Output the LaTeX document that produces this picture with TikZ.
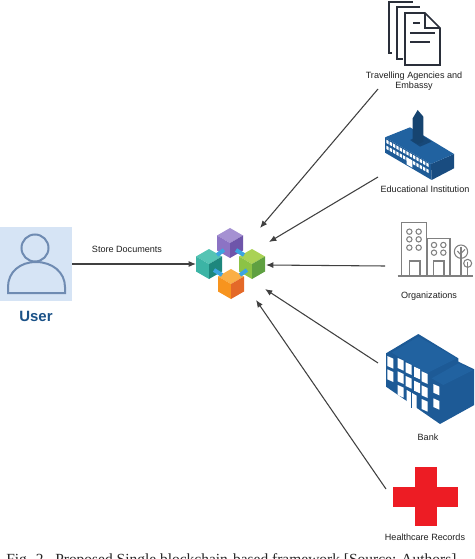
\documentclass[tikz,border=0pt]{standalone}
\usepackage{fontspec}
\setmainfont{Liberation Sans}
\newfontfamily\captionserif{Liberation Serif}
\usepackage{xcolor}
\usetikzlibrary{arrows.meta}
\usetikzlibrary{math}
\definecolor{myblue}{RGB}{29,90,150}
\definecolor{myroof}{RGB}{33,98,160}
\definecolor{myink}{RGB}{42,47,58}
\definecolor{myuser}{RGB}{111,139,178}
\definecolor{mybox}{RGB}{214,228,245}
\definecolor{mytube}{RGB}{60,165,225}
\definecolor{myred}{RGB}{237,28,36}
\definecolor{purpleA}{RGB}{165,145,210}
\definecolor{purpleB}{RGB}{140,115,196}
\definecolor{purpleC}{RGB}{110,85,170}
\definecolor{tealA}{RGB}{85,196,180}
\definecolor{tealB}{RGB}{60,180,165}
\definecolor{tealC}{RGB}{30,135,125}
\definecolor{greenA}{RGB}{170,210,85}
\definecolor{greenB}{RGB}{140,195,70}
\definecolor{greenC}{RGB}{95,160,65}
\definecolor{orangeA}{RGB}{250,175,70}
\definecolor{orangeB}{RGB}{247,148,30}
\definecolor{orangeC}{RGB}{228,105,40}
\tikzset{
label text/.style={font=\fontsize{6.8}{8}\selectfont, text=black!88, align=center, inner sep=0pt},
link/.style={-{Latex[length=5.5pt,width=4.5pt]}, black!75, line width=0.8pt},
doc line/.style={myink, line width=1.3pt},
org line/.style={black!50, line width=0.8pt},
tube/.style={line width=3pt, color=mytube}
}
% one block of the chain: x, y and colour name
\newcommand{\blockcube}[3]{
\fill[#3A] (#1,#2-15) -- (#1+13,#2-7.5) -- (#1,#2) -- (#1-13,#2-7.5) -- cycle;
\fill[#3B] (#1-13,#2-7.5) -- (#1,#2) -- (#1,#2+15) -- (#1-13,#2+7.5) -- cycle;
\fill[#3C] (#1+13,#2-7.5) -- (#1,#2) -- (#1,#2+15) -- (#1+13,#2+7.5) -- cycle;
}
% window of the bank, skewed along the left wall
\newcommand{\bankwindow}[3]{
\fill[white] (#1,#2) -- (#1+18,#2+8) -- (#1+18,#2+8+#3) -- (#1,#2+#3) -- cycle;
}
\begin{document}
\begin{tikzpicture}[x=0.75pt,y=-0.75pt]
\useasboundingbox (0,0) rectangle (474,559);
\clip (0,0) rectangle (474,559);
\tikzmath{
\chainx=230;
\chainy=264;
}

%The user:
\fill[mybox] (0,227) rectangle (72,301);
\draw[myuser, line width=1.5pt] (35,248) circle (13.5);
\draw[myuser, line width=1.5pt] (8,293) -- (8,287) .. controls (8,272) and (20,262) .. (36,262) .. controls (52,262) and (65,272) .. (65,287) -- (65,293) -- cycle;
\node[font=\fontsize{11.2}{13}\selectfont\bfseries, text=myblue!90!black, inner sep=0pt] (user) at (36,316) {User};
\node[label text] (store) at (127,249.5) {Store Documents};

%The chain:
\blockcube{230}{243}{purple}
\blockcube{209}{264}{teal}
\blockcube{252}{264}{green}
\blockcube{231}{284}{orange}
\draw[tube] (224,250) -- (217,255);
\draw[tube] (236,250) -- (244,255);
\draw[tube] (214,270) -- (222,275);
\draw[tube] (247,270) -- (240,275);
\coordinate (chain) at (\chainx,\chainy);

%The documents:
\draw[doc line] (392,53) -- (389,53) -- (389,2) -- (413,2);
\draw[doc line] (403,59) -- (397,59) -- (397,7) -- (420,7);
\draw[doc line] (405,13) -- (425,13) -- (440,28) -- (440,65) -- (405,65) -- cycle;
\draw[doc line] (425,13) -- (425,28) -- (440,28);
\draw[doc line] (413,23) -- (420,23);
\draw[doc line] (410,33) -- (435,33);
\draw[doc line] (410,42) -- (430,42);
\node[label text] (travel) at (414,81) {Travelling Agencies and\\Embassy};

%The school:
\begin{scope}[shift={(375,100)},scale=1/3]
\fill[myblue] (30,112) -- (168,192) -- (170,240) -- (30,158) -- cycle;
\fill[myblue!85!black] (168,192) -- (237,162) -- (237,205) -- (170,240) -- cycle;
\fill[myroof] (30,112) -- (105,82) -- (237,162) -- (168,192) -- cycle;
\fill[myblue!80!black] (105,120) -- (140,105) -- (170,125) -- (135,140) -- cycle;
\fill[myblue!75!black] (113,125) -- (113,55) -- (128,30) -- (145,50) -- (145,125) -- (130,132) -- cycle;
\foreach \i in {0,...,12}{
\fill[white] (34+10*\i,119+5.7*\i) -- +(7,4) -- +(7,14) -- +(0,10) -- cycle;
\fill[white] (34+10*\i,137+5.7*\i) -- +(7,4) -- +(7,14) -- +(0,10) -- cycle;
}
\fill[white] (95,172) -- (112,182) -- (112,203) -- (95,193) -- cycle;
\end{scope}
\node[label text] (school) at (425,189.5) {Educational Institution};

%The organizations:
\begin{scope}[shift={(350,200)},scale=1/3]
\draw[org line] (143,228) -- (370,228);
\draw[org line] (155,228) -- (155,68) -- (230,68) -- (230,228);
\draw[org line] (232,228) -- (232,115) -- (300,115) -- (300,228);
\foreach \y in {95,118,143}{
\draw[org line] (178,\y) circle (8);
\draw[org line] (206,\y) circle (8);
}
\foreach \y in {135,158}{
\draw[org line] (252,\y) circle (8);
\draw[org line] (280,\y) circle (8);
}
\draw[org line] (178,228) -- (178,183) -- (210,183) -- (210,228);
\draw[org line] (250,228) -- (250,183) -- (282,183) -- (282,228);
\draw[org line] (333,155) circle (20);
\draw[org line] (333,140) -- (333,228);
\draw[org line] (333,160) -- (345,148);
\draw[org line] (333,165) -- (322,153);
\draw[org line] (353,190) circle (12);
\draw[org line] (353,185) -- (353,228);
\end{scope}
\node[label text] (orgs) at (429,296) {Organizations};

%The bank:
\begin{scope}[shift={(375,330)},scale=1/3]
\fill[myblue] (33,70) -- (130,12) -- (250,85) -- (250,95) -- (298,118) -- (298,225) -- (195,282) -- (33,170) -- cycle;
\fill[myroof] (50,68) -- (130,20) -- (245,85) -- (155,130) -- cycle;
\fill[myroof] (170,145) -- (250,100) -- (295,120) -- (205,165) -- cycle;
\foreach \x/\y in {37/78,68/84,92/97,117/110,140/124,37/118,68/124,92/138,117/152,140/166,68/165,140/207}{
\bankwindow{\x}{\y}{30}
}
\fill[white] (95,180) -- (125,197) -- (125,240) -- (95,222) -- cycle;
\fill[myblue] (107,180) rectangle (111,235);
\bankwindow{175}{162}{26}
\bankwindow{175}{205}{26}
\end{scope}
\node[label text] (bank) at (428,437) {Bank};

%The cross:
\fill[myred] (415,466.7) rectangle (436.7,525.7);
\fill[myred] (393.3,486.7) rectangle (457.7,506.7);
\node[label text] (health) at (425,537) {Healthcare Records};

%The arrows:
\coordinate (a1) at (72,264);
\coordinate (b1) at (196,264);
\coordinate (a2) at (378,89);
\coordinate (b2) at (260,228);
\coordinate (a3) at (378,177);
\coordinate (b3) at (269,242);
\coordinate (a4) at (385,266);
\coordinate (b4) at (266,265);
\coordinate (a5) at (378,363);
\coordinate (b5) at (265,289);
\coordinate (a6) at (386,489);
\coordinate (b6) at (256,300);
\foreach \i in {1,...,6}{
\draw[link] (a\i) -- (b\i);
}

\node[anchor=base west, inner sep=0pt, font=\captionserif\fontsize{11.6}{14}\selectfont, text=black!85] (caption) at (6,564) {Fig. 2.\ \ Proposed Single blockchain-based framework [Source: Authors]};
\end{tikzpicture}
\end{document}
